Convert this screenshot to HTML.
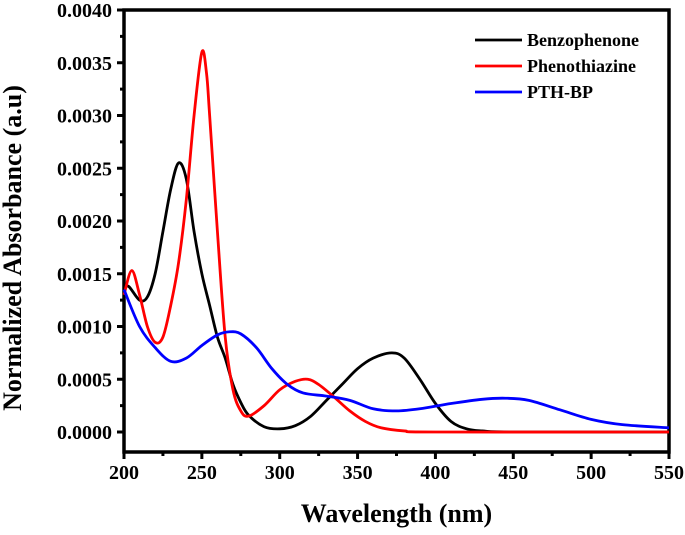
<!DOCTYPE html>
<html><head><meta charset="utf-8"><style>
body{margin:0;background:#fff}
svg text{font-family:"Liberation Serif","Times New Roman",serif;font-weight:bold;fill:#000}
</style></head><body>
<svg id="chart" width="685" height="530" xmlns="http://www.w3.org/2000/svg">
<g id="axes"></g><g id="series"></g><g id="legend"></g>
</svg>
<script>
const xTicks=[200,250,300,350,400,450,500,550];
const yTicks=[0,0.0005,0.001,0.0015,0.002,0.0025,0.003,0.0035,0.004];
const yTickLabels=["0.0000","0.0005","0.0010","0.0015","0.0020","0.0025","0.0030","0.0035","0.0040"];
const benzoX=[200,203,210,215,220,225,230,235,240,245,250,255,260,265,270,275,280,290,300,310,320,330,340,350,360,372,380,390,400,410,420,430,450,550];
const benzoY=[0.00135,0.00138,0.00125,0.00128,0.0015,0.0019,0.0023,0.00255,0.0024,0.0019,0.0015,0.0012,0.0009,0.0007,0.00045,0.00028,0.00016,0.00005,0.00003,0.00006,0.00015,0.0003,0.00045,0.0006,0.0007,0.00075,0.0007,0.0005,0.00027,0.0001,0.00003,0.00001,0,0];
const phenoX=[200,205,210,215,220,225,230,235,240,245,250,253,255,260,265,270,275,280,290,300,310,318,325,335,345,355,365,380,400,550];
const phenoY=[0.0013,0.00153,0.0013,0.001,0.00085,0.0009,0.0012,0.0016,0.0022,0.003,0.0036,0.0034,0.003,0.0019,0.0009,0.0004,0.0002,0.00015,0.00025,0.0004,0.00048,0.0005,0.00045,0.00033,0.0002,0.0001,0.00004,0.00001,0,0];
const pthX=[200,210,220,230,240,250,260,268,275,285,295,305,315,330,345,360,375,390,410,430,445,460,480,500,520,550];
const pthY=[0.00135,0.001,0.0008,0.00067,0.0007,0.00082,0.00092,0.00095,0.00093,0.0008,0.0006,0.00045,0.00037,0.00034,0.0003,0.00022,0.0002,0.00022,0.00027,0.00031,0.00032,0.0003,0.00021,0.00012,0.00007,0.00004];
const seriesNames=["Benzophenone","Phenothiazine","PTH-BP"];
const seriesColors=["#000","#f00","#00f"];
const L=124,R=669,T=10,B=452,Y0=432;
const sx=v=>L+(v-200)/(550-200)*(R-L);
const sy=v=>Y0-v/0.004*(Y0-T);
const NS="http://www.w3.org/2000/svg";
function mk(tag,attrs,parent){const e=document.createElementNS(NS,tag);for(const k in attrs)e.setAttribute(k,attrs[k]);parent.appendChild(e);return e;}
const axes=document.getElementById('axes');
const frame=mk('rect',{x:L,y:T,width:R-L,height:B-T,fill:'none',stroke:'#000','stroke-width':3.5},axes);


xTicks.forEach((t,i)=>{
  const x=sx(t);
  const tk=mk('line',{x1:x,x2:x,y1:B,y2:B+7,stroke:'#000','stroke-width':3},axes);
  
  
  if(i<xTicks.length-1){const m=mk('line',{x1:sx(t+25),x2:sx(t+25),y1:B,y2:B+4,stroke:'#000','stroke-width':3},axes);
  
  }
  const lb=mk('text',{x:x,y:B+27,'text-anchor':'middle','font-size':20},axes);lb.textContent=t;
  
  
});
yTicks.forEach((t,i)=>{
  const y=sy(t);
  const tk=mk('line',{x1:L-7,x2:L,y1:y,y2:y,stroke:'#000','stroke-width':3},axes);
  
  
  if(i<yTicks.length-1){const my=sy(t+0.00025);const m=mk('line',{x1:L-4,x2:L,y1:my,y2:my,stroke:'#000','stroke-width':3},axes);
  
  }
  const lb=mk('text',{x:L-12,y:y+7,'text-anchor':'end','font-size':20},axes);lb.textContent=yTickLabels[i];
  
  
});
const xt=mk('text',{x:(L+R)/2,y:522,'text-anchor':'middle','font-size':26},axes);xt.textContent='Wavelength (nm)';


const yt=mk('text',{x:0,y:0,'text-anchor':'middle','font-size':26,transform:'translate(21,248) rotate(-90)'},axes);yt.textContent='Normalized Absorbance (a.u)';


function pathFor(xs,ys){
  const p=xs.map((x,i)=>[sx(x),sy(ys[i])]);
  let d='M'+p[0][0]+','+p[0][1];
  for(let i=0;i<p.length-1;i++){
    const p0=p[i-1]||p[i],p1=p[i],p2=p[i+1],p3=p[i+2]||p2;
    const c1=[p1[0]+(p2[0]-p0[0])/6,p1[1]+(p2[1]-p0[1])/6];
    const c2=[p2[0]-(p3[0]-p1[0])/6,p2[1]-(p3[1]-p1[1])/6];
    d+=`C${c1[0]},${c1[1]} ${c2[0]},${c2[1]} ${p2[0]},${p2[1]}`;
  }
  return d;
}
const ser=document.getElementById('series');
const data=[[benzoX,benzoY],[phenoX,phenoY],[pthX,pthY]];
const lineNames=['benzophenone-line','phenothiazine-line','pth-bp-line'];
data.forEach((s,i)=>{
  const p=mk('path',{d:pathFor(s[0],s[1]),fill:'none',stroke:seriesColors[i],'stroke-width':2.8,'stroke-linejoin':'round'},ser);
  
  
});
const lg=document.getElementById('legend');


seriesNames.forEach((n,i)=>{
  const y=40+i*26;
  const ln=mk('line',{x1:475,x2:522,y1:y,y2:y,stroke:seriesColors[i],'stroke-width':2.8},lg);
  
  
  const t=mk('text',{x:527,y:y+6,'font-size':18},lg);t.textContent=n;
  
  
});
</script>
</body></html>
